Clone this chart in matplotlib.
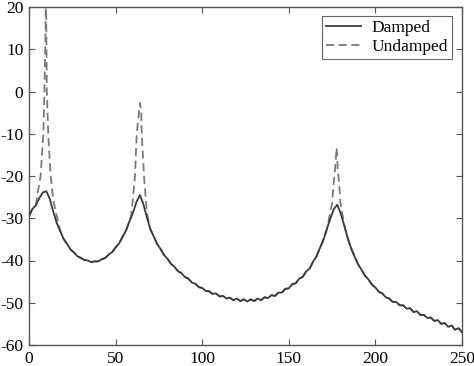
import numpy as np
import matplotlib
matplotlib.use("Agg")
import matplotlib.pyplot as plt

# ---------------- data ----------------
freq = np.arange(0, 251, 2)
damped = [
    -29.5, -27.8, -26.9, -25.2, -23.9, -23.6, -25.4, -28.4, -31.1, -33.0,
    -34.9, -36.1, -37.4, -38.1, -39.0, -39.4, -39.9, -40.0, -40.4, -40.2,
    -40.2, -39.7, -39.4, -38.6, -38.0, -36.9, -36.0, -34.4, -32.9, -30.7,
    -28.7, -26.2, -24.5, -26.6, -29.7, -32.5, -34.3, -36.1, -37.3, -38.7,
    -39.6, -40.8, -41.5, -42.5, -43.0, -43.9, -44.3, -45.2, -45.5, -46.3,
    -46.5, -47.2, -47.3, -47.9, -47.8, -48.5, -48.4, -49.0, -48.8, -49.4,
    -49.0, -49.6, -49.2, -49.7, -49.2, -49.6, -49.0, -49.4, -48.7, -48.9,
    -48.2, -48.4, -47.6, -47.6, -46.7, -46.6, -45.6, -45.4, -44.3, -43.9,
    -42.6, -41.9, -40.3, -39.0, -37.0, -35.1, -32.5, -30.1, -27.8, -26.8,
    -28.9, -31.7, -34.7, -37.1, -39.1, -40.9, -42.2, -43.6, -44.5, -45.7,
    -46.4, -47.4, -47.8, -48.7, -49.0, -49.8, -49.8, -50.6, -50.6, -51.4,
    -51.3, -52.2, -52.0, -52.9, -52.9, -53.6, -53.5, -54.3, -54.1, -55.0,
    -54.8, -55.7, -55.4, -56.4, -56.0, -57.0,
]

# undamped response differs from the damped one only around the resonances
peak1_x = [5.0, 6.7, 8.3, 8.9, 9.4, 9.8, 10.3, 11.1, 12.5, 14.0, 16.0]
peak1_y = [-24.0, -20.0, -10.0, 0.0, 10.0, 24.0, 0.0, -10.0, -20.0, -25.6, -29.5]
peak2_x = [59.0, 61.2, 62.2, 63.5, 64.1, 64.8, 65.1, 66.4, 68.0]
peak2_y = [-29.5, -20.0, -10.0, -5.0, -2.7, -5.0, -10.0, -20.0, -28.5]
peak3_x = [172.0, 175.0, 175.7, 176.7, 177.6, 178.3, 179.2, 179.8, 182.0]
peak3_y = [-32.6, -26.4, -22.5, -18.5, -13.3, -18.5, -22.5, -26.4, -31.5]

x_ticks = [0, 50, 100, 150, 200, 250]
y_ticks = [-60, -50, -40, -30, -20, -10, 0, 10, 20]

# ---------------- build undamped series ----------------
fx = np.asarray(freq, float)
dy = np.asarray(damped, float)
keep = np.ones_like(fx, bool)
ux_parts, uy_parts = [], []
for px_, py_ in [(peak1_x, peak1_y), (peak2_x, peak2_y), (peak3_x, peak3_y)]:
    keep &= ~((fx >= min(px_)) & (fx <= max(px_)))
    ux_parts.append(np.asarray(px_, float))
    uy_parts.append(np.asarray(py_, float))
ux = np.concatenate([fx[keep]] + ux_parts)
uy = np.concatenate([dy[keep]] + uy_parts)
order = np.argsort(ux)
ux, uy = ux[order], uy[order]

# ---------------- plot ----------------
plt.rcParams["font.family"] = ["Liberation Serif", "DejaVu Serif"]
plt.rcParams["axes.unicode_minus"] = False
fig = plt.figure(figsize=(4.74, 3.66), dpi=100)
ax = fig.add_axes([29 / 474, (366 - 345) / 366, (462 - 29) / 474, (345 - 7) / 366])

ax.plot(ux, uy, color="#7a7a7a", lw=1.3, dashes=(4.5, 2.5), label="Undamped", zorder=2)
ax.plot(fx, dy, color="#3a3a3a", lw=1.3, label="Damped", zorder=3)

ax.set_xlim(0, 250)
ax.set_ylim(-60, 20)
ax.set_xticks(x_ticks)
ax.set_yticks(y_ticks)
ax.tick_params(direction="in", length=4, width=0.8, color="#555555",
               labelsize=12.5, top=True, right=True, pad=4)
for s in ax.spines.values():
    s.set_color("#555555")
    s.set_linewidth(1.0)

h, l = ax.get_legend_handles_labels()
leg = ax.legend([h[1], h[0]], [l[1], l[0]], loc="upper right",
                bbox_to_anchor=(0.985, 0.985), fontsize=12.5,
                fancybox=False, framealpha=1, edgecolor="#666666",
                borderpad=0.25, labelspacing=0.15, handlelength=2.0,
                handletextpad=0.6, borderaxespad=0.2)
leg.get_frame().set_linewidth(0.8)

fig.savefig("out.png", dpi=100)
